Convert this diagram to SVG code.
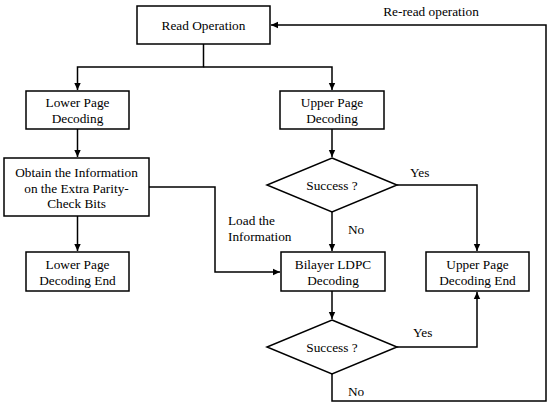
<svg xmlns="http://www.w3.org/2000/svg" width="550" height="405" viewBox="0 0 550 405">
<style>
.box{fill:#fff;stroke:#000;stroke-width:1.5}
.c{fill:none;stroke:#000;stroke-width:1.5}
text{font-family:'Liberation Serif','Times New Roman',serif;font-size:13.3px;fill:#000}
.m{text-anchor:middle}
</style>
<defs>
<marker id="a" markerWidth="8" markerHeight="8" refX="7" refY="4" orient="auto" markerUnits="userSpaceOnUse">
<path d="M0,0.8 L7,4 L0,7.2 Z" fill="#000"/>
</marker>
</defs>
<rect width="550" height="405" fill="#fff"/>
<g id="connectors">
<path class="c" d="M203.5,44 V67 H77.5 V90" marker-end="url(#a)"/>
<path class="c" d="M203.5,67 H332 V90" marker-end="url(#a)"/>
<path class="c" d="M77.5,129 V157" marker-end="url(#a)"/>
<path class="c" d="M77.5,216 V251" marker-end="url(#a)"/>
<path class="c" d="M149,187 H215 V272 H280" marker-end="url(#a)"/>
<path class="c" d="M332,129 V157" marker-end="url(#a)"/>
<path class="c" d="M397,185 H477 V251" marker-end="url(#a)"/>
<path class="c" d="M332,212 V251" marker-end="url(#a)"/>
<path class="c" d="M332,291 V319" marker-end="url(#a)"/>
<path class="c" d="M397,347 H477 V292" marker-end="url(#a)"/>
<path class="c" d="M332,374 V401 H546 V25 H271" marker-end="url(#a)"/>
<text x="431" y="16" class="m">Re-read operation</text>
<text x="228" y="225">Load the</text>
<text x="228" y="241">Information</text>
<text x="410" y="177">Yes</text>
<text x="348" y="234">No</text>
<text x="413" y="337">Yes</text>
<text x="348" y="396">No</text>
</g>
<g id="read">
<rect class="box" x="137" y="6" width="133" height="38"/>
<text x="203.5" y="30" class="m">Read Operation</text>
</g>
<g id="lower">
<rect class="box" x="26" y="91" width="103" height="38"/>
<text x="77.5" y="107" class="m">Lower Page</text>
<text x="77.5" y="123" class="m">Decoding</text>
</g>
<g id="upper">
<rect class="box" x="280" y="91" width="104" height="38"/>
<text x="332" y="107" class="m">Upper Page</text>
<text x="332" y="123" class="m">Decoding</text>
</g>
<g id="obtain">
<rect class="box" x="4" y="158" width="145" height="58"/>
<text x="76.5" y="177" class="m">Obtain the Information</text>
<text x="76.5" y="193" class="m">on the Extra Parity-</text>
<text x="76.5" y="208" class="m">Check Bits</text>
</g>
<g id="lowerEnd">
<rect class="box" x="26" y="252" width="103" height="39"/>
<text x="77.5" y="269" class="m">Lower Page</text>
<text x="77.5" y="285" class="m">Decoding End</text>
</g>
<g id="success1">
<polygon class="box" points="332,158 397,185 332,212 267,185"/>
<text x="332" y="190" class="m">Success ?</text>
</g>
<g id="bilayer">
<rect class="box" x="281" y="252" width="104" height="39"/>
<text x="333" y="269" class="m">Bilayer LDPC</text>
<text x="333" y="285" class="m">Decoding</text>
</g>
<g id="upperEnd">
<rect class="box" x="426" y="252" width="103" height="39"/>
<text x="477.5" y="269" class="m">Upper Page</text>
<text x="477.5" y="285" class="m">Decoding End</text>
</g>
<g id="success2">
<polygon class="box" points="332,320 397,347 332,374 267,347"/>
<text x="332" y="352" class="m">Success ?</text>
</g>
</svg>
